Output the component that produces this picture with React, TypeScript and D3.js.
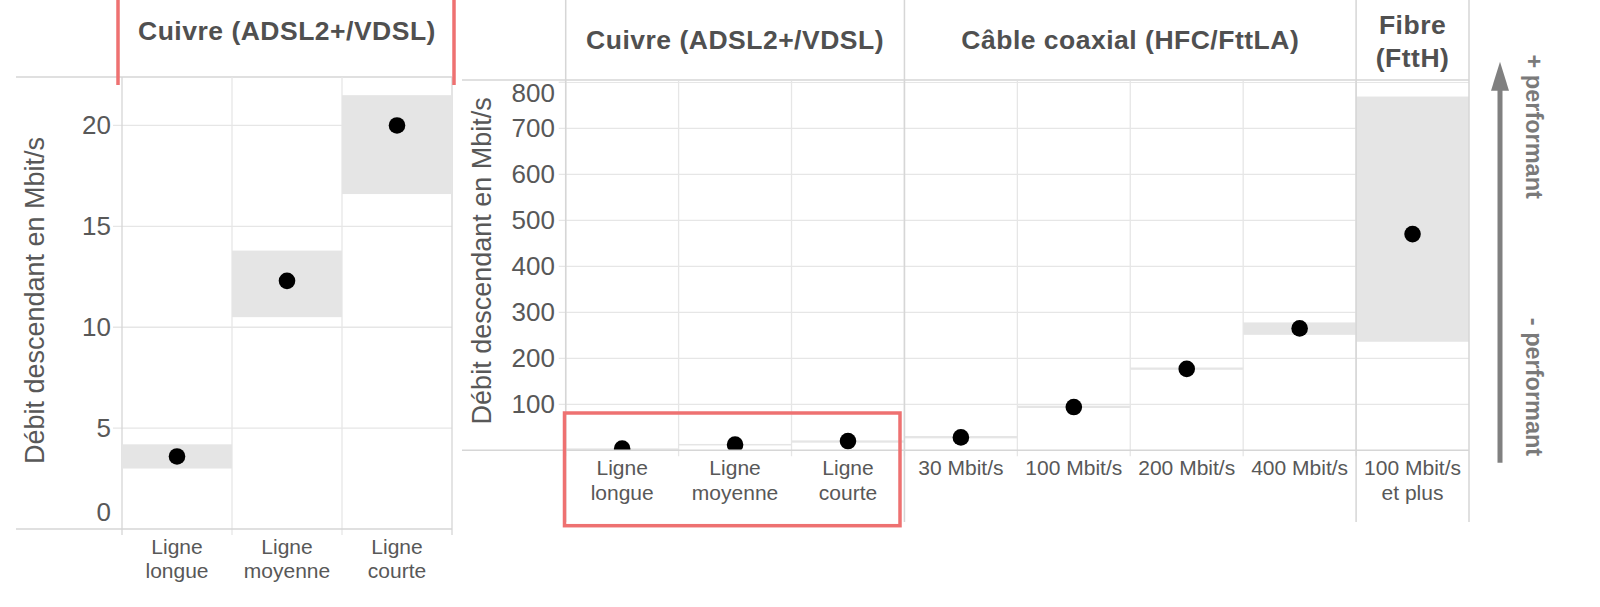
import React from "react";
import * as d3 from "d3";

// ---------- data ----------
const cuivreCategories = ["Ligne\nlongue", "Ligne\nmoyenne", "Ligne\ncourte"];
const cuivreMedian = [3.6, 12.3, 20.0];
const cuivreLow = [3.0, 10.5, 16.6];
const cuivreHigh = [4.2, 13.8, 21.5];

const cableCategories = ["30 Mbit/s", "100 Mbit/s", "200 Mbit/s", "400 Mbit/s"];
const cableMedian = [28, 94, 177, 265];
const cableLow = [26, 92, 175, 251];
const cableHigh = [31, 97, 180, 278];

const fibreCategories = ["100 Mbit/s\net plus"];
const fibreMedian = [470];
const fibreLow = [236];
const fibreHigh = [769];

const groupNames = ["Cuivre (ADSL2+/VDSL)", "Câble coaxial (HFC/FttLA)", "Fibre\n(FttH)"];
const leftTicks = [0, 5, 10, 15, 20];
const rightTicks = [100, 200, 300, 400, 500, 600, 700, 800];
const axisTitle = "Débit descendant en Mbit/s";
const arrowLabels = ["+ performant", "- performant"];

// ---------- style ----------
const FONT = "'Liberation Sans', Arial, Helvetica, sans-serif";
const GRID = "#e6e6e6";
const BORDER = "#d6d6d6";
const TXT = "#585858";
const HEAD = "#505050";
const RED = "#ee7171";
const BAND = "#e5e5e5";

type Row = { key: string; label: string; med: number; lo: number; hi: number };

const cuivreRows: Row[] = cuivreCategories.map((c, i) => ({
  key: "cu" + i, label: c, med: cuivreMedian[i], lo: cuivreLow[i], hi: cuivreHigh[i],
}));
const cableRows: Row[] = cableCategories.map((c, i) => ({
  key: "ca" + i, label: c, med: cableMedian[i], lo: cableLow[i], hi: cableHigh[i],
}));
const fibreRows: Row[] = fibreCategories.map((c, i) => ({
  key: "fi" + i, label: c, med: fibreMedian[i], lo: fibreLow[i], hi: fibreHigh[i],
}));
const groups = [cuivreRows, cableRows, fibreRows];
const allRows = [...cuivreRows, ...cableRows, ...fibreRows];

function Multi({ x, y, text, lh, ...rest }: any) {
  const lines = text.split("\n");
  return (
    <text x={x} y={y} {...rest}>
      {lines.map((l: string, i: number) => (
        <tspan key={i} x={x} y={y + i * lh}>{l}</tspan>
      ))}
    </text>
  );
}

export default function App() {
  // Left panel geometry
  const L = { x0: 122, x1: 452, top: 77, base: 529.1 };
  const xL = d3.scaleBand<string>().domain(cuivreRows.map((r) => r.key)).range([L.x0, L.x1]).padding(0);
  const yL = d3.scaleLinear().domain([0, 22.4]).range([L.base, L.top]);

  // Right panel geometry
  const R = { x0: 565.7, x1: 1469, top: 81, base: 450.3 };
  const xR = d3.scaleBand<string>().domain(allRows.map((r) => r.key)).range([R.x0, R.x1]).padding(0);
  const yR = d3.scaleLinear().domain([0, 802.8]).range([R.base, R.top]);

  const bw = xR.bandwidth();
  const groupBounds = groups.map((g) => {
    const a = xR(g[0].key)!;
    const b = xR(g[g.length - 1].key)! + bw;
    return [a, b];
  });

  const clampL = (v: number) => Math.min(Math.max(yL(v), L.top + 12), L.base - 17.5);
  const clampR = (v: number) => Math.min(Math.max(yR(v), R.top + 12), R.base - 17.5);

  return (
    <svg
      width={1600}
      height={607}
      style={{ position: "absolute", left: 0, top: 0, background: "#fff" }}
      fontFamily={FONT}
    >
      <defs>
        <clipPath id="clipL">
          <rect x={L.x0} y={L.top} width={L.x1 - L.x0} height={L.base - L.top} />
        </clipPath>
        <clipPath id="clipR">
          <rect x={R.x0} y={R.top} width={R.x1 - R.x0} height={R.base - R.top} />
        </clipPath>
      </defs>

      {/* ================= LEFT PANEL ================= */}
      <text x={(L.x0 + L.x1) / 2} y={31} textAnchor="middle" dominantBaseline="central"
        fontSize={26.5} fontWeight="bold" fill={HEAD} letterSpacing={0.5}>
        {groupNames[0]}
      </text>
      <line x1={16} x2={L.x1} y1={L.top} y2={L.top} stroke={BORDER} strokeWidth={1.5} />

      {leftTicks.filter((t) => t > 0).map((t) => (
        <line key={t} x1={L.x0 - 9} x2={L.x1} y1={yL(t)} y2={yL(t)} stroke={GRID} strokeWidth={1.3} />
      ))}
      {cuivreRows.map((r, i) => (
        <line key={r.key} x1={xL(r.key)!} x2={xL(r.key)!} y1={L.top} y2={L.base + 6}
          stroke={i === 0 ? BORDER : GRID} strokeWidth={1.3} />
      ))}
      <line x1={L.x1} x2={L.x1} y1={L.top} y2={L.base + 6} stroke={BORDER} strokeWidth={1.3} />

      <g clipPath="url(#clipL)">
        {cuivreRows.map((r) => (
          <rect key={r.key} x={xL(r.key)!} width={xL.bandwidth()} y={yL(r.hi)}
            height={yL(r.lo) - yL(r.hi)} fill={BAND} />
        ))}
        {cuivreRows.map((r) => (
          <circle key={r.key} cx={xL(r.key)! + xL.bandwidth() / 2} cy={yL(r.med)} r={8.3} fill="#000" />
        ))}
      </g>
      <line x1={16} x2={L.x1} y1={L.base} y2={L.base} stroke={BORDER} strokeWidth={1.5} />

      {leftTicks.map((t) => (
        <text key={t} x={111} y={clampL(t)} textAnchor="end" dominantBaseline="central"
          fontSize={26} fill={TXT}>{t}</text>
      ))}
      <text transform={`translate(35,300.5) rotate(-90)`} textAnchor="middle" dominantBaseline="central"
        fontSize={27} fill={TXT}>{axisTitle}</text>

      {cuivreRows.map((r) => (
        <Multi key={r.key} x={xL(r.key)! + xL.bandwidth() / 2} y={545.7} lh={24.3} text={r.label}
          textAnchor="middle" dominantBaseline="central" fontSize={21} fill={TXT} />
      ))}

      <line x1={118} x2={118} y1={0} y2={85} stroke={RED} strokeWidth={3.5} />
      <line x1={454} x2={454} y1={0} y2={85} stroke={RED} strokeWidth={3.5} />

      {/* ================= RIGHT PANEL ================= */}
      {groupNames.map((g, i) => (
        <Multi key={g} x={(groupBounds[i][0] + groupBounds[i][1]) / 2}
          y={g.includes("\n") ? 25 : 40} lh={33.3} text={g}
          textAnchor="middle" dominantBaseline="central" fontSize={26.5} fontWeight="bold"
          fill={HEAD} letterSpacing={0.5} />
      ))}
      <line x1={462} x2={R.x1} y1={80} y2={80} stroke={BORDER} strokeWidth={1.5} />
      <line x1={R.x0} x2={R.x1} y1={82.5} y2={82.5} stroke={GRID} strokeWidth={1.2} />

      {rightTicks.filter((t) => t < 800).map((t) => (
        <line key={t} x1={R.x0 - 7} x2={R.x1} y1={yR(t)} y2={yR(t)} stroke={GRID} strokeWidth={1.3} />
      ))}
      <line x1={R.x0 - 7} x2={R.x0} y1={yR(800)} y2={yR(800)} stroke={GRID} strokeWidth={1.3} />

      {allRows.map((r) => (
        <line key={r.key} x1={xR(r.key)!} x2={xR(r.key)!} y1={R.top} y2={R.base + 6}
          stroke={GRID} strokeWidth={1.3} />
      ))}

      <g clipPath="url(#clipR)">
        {allRows.map((r) => (
          <rect key={r.key} x={xR(r.key)!} width={bw} y={yR(r.hi)}
            height={Math.max(1.5, yR(r.lo) - yR(r.hi))} fill={BAND} />
        ))}
        {allRows.map((r) => (
          <circle key={r.key} cx={xR(r.key)! + bw / 2} cy={yR(r.med)} r={8.3} fill="#000" />
        ))}
      </g>

      {[groupBounds[0][0], groupBounds[1][0], groupBounds[2][0], groupBounds[2][1]].map((x, i) => (
        <line key={i} x1={x} x2={x} y1={0} y2={522} stroke={BORDER} strokeWidth={1.5} />
      ))}

      <line x1={462} x2={R.x1} y1={R.base} y2={R.base} stroke={BORDER} strokeWidth={1.5} />

      {rightTicks.map((t) => (
        <text key={t} x={555} y={clampR(t)} textAnchor="end" dominantBaseline="central"
          fontSize={26} fill={TXT}>{t}</text>
      ))}
      <text transform={`translate(481.7,260.8) rotate(-90)`} textAnchor="middle" dominantBaseline="central"
        fontSize={27} fill={TXT}>{axisTitle}</text>

      {allRows.map((r) => (
        <Multi key={r.key} x={xR(r.key)! + bw / 2} y={467.3} lh={25} text={r.label}
          textAnchor="middle" dominantBaseline="central" fontSize={21} fill={TXT} />
      ))}

      <rect x={564.5} y={413} width={900 - 564.5} height={525.7 - 413} fill="none"
        stroke={RED} strokeWidth={3.5} />

      {/* ================= ARROW ================= */}
      <line x1={1500} x2={1500} y1={88} y2={462.7} stroke="#808080" strokeWidth={5} />
      <path d="M1500,61.7 L1509,90.7 L1491,90.7 Z" fill="#808080" />
      <text transform={`translate(1534,126.7) rotate(90)`} textAnchor="middle" dominantBaseline="central"
        fontSize={23.5} fontWeight="bold" fill="#7a7a7a">{arrowLabels[0]}</text>
      <text transform={`translate(1534,387) rotate(90)`} textAnchor="middle" dominantBaseline="central"
        fontSize={23.5} fontWeight="bold" fill="#7a7a7a">{arrowLabels[1]}</text>
    </svg>
  );
}
